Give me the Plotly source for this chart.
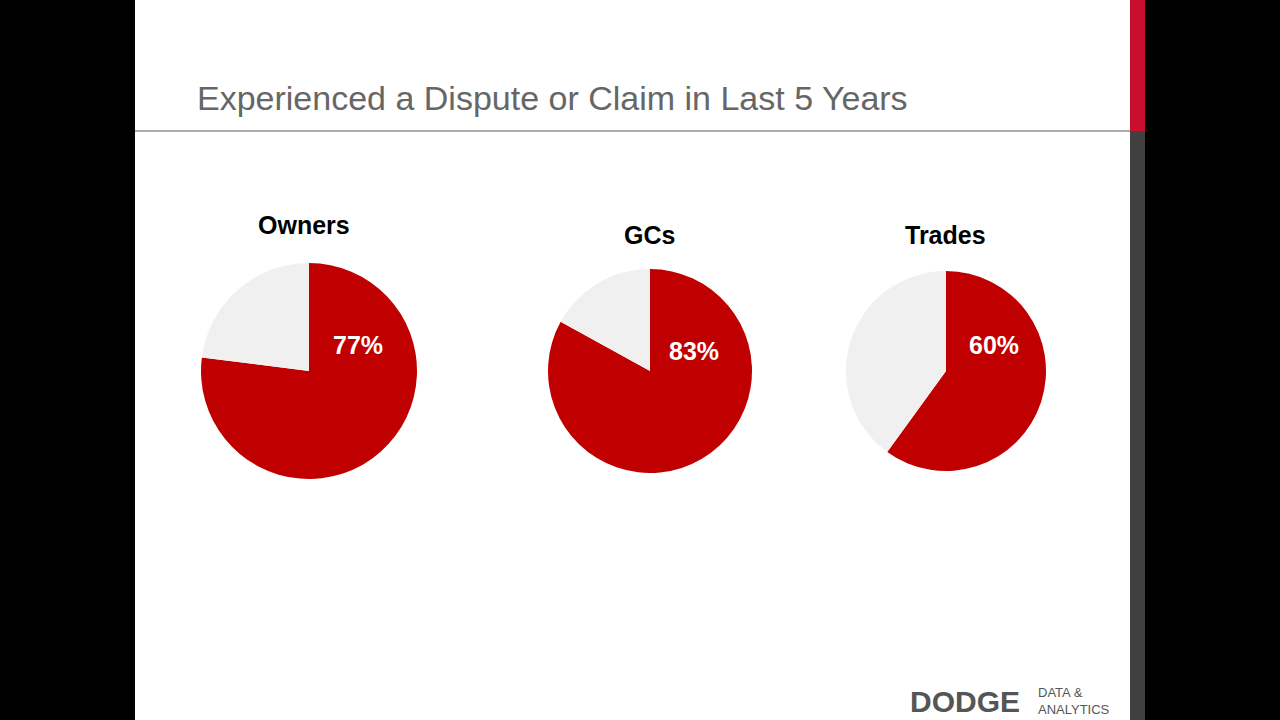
import plotly.graph_objects as go

groups = ["Owners", "GCs", "Trades"]
yes_pct = [77, 83, 60]
label_text = ["77%", "83%", "60%"]
centers = [(309, 371, 108), (650, 371, 102), (946, 371, 100)]
title_pos = [(304, 225), (649, 235), (945, 235)]
lab_pos = [(358, 345), (694, 351), (994, 345)]

W, H = 1280, 720
fig = go.Figure()
for g, v, (cx, cy, r) in zip(groups, yes_pct, centers):
    fig.add_trace(go.Pie(values=[v, 100 - v], labels=["Yes", "No"], sort=False,
                         direction="clockwise", rotation=0,
                         marker=dict(colors=["#C00000", "#F0F0F0"]),
                         textinfo="none", hoverinfo="label+percent", showlegend=False,
                         domain=dict(x=[(cx - r) / W, (cx + r) / W],
                                     y=[1 - (cy + r) / H, 1 - (cy - r) / H])))

def px(x): return x / W
def py(y): return 1 - y / H

shapes = [
    dict(type="rect", xref="paper", yref="paper", x0=px(135), x1=px(1130), y0=0, y1=1, fillcolor="white", line_width=0, layer="below"),
    dict(type="rect", xref="paper", yref="paper", x0=px(1130), x1=px(1145), y0=py(131), y1=1, fillcolor="#C8102E", line_width=0, layer="below"),
    dict(type="rect", xref="paper", yref="paper", x0=px(1130), x1=px(1145), y0=0, y1=py(131), fillcolor="#404040", line_width=0, layer="below"),
    dict(type="line", xref="paper", yref="paper", x0=px(135), x1=px(1130), y0=py(131), y1=py(131), line=dict(color="#909090", width=1.5)),
]
ann = [dict(text="Experienced a Dispute or Claim in Last 5 Years", x=px(195), y=py(98), xref="paper", yref="paper",
            xanchor="left", yanchor="middle", showarrow=False, font=dict(size=34, color="#666666", family="Liberation Sans"))]
for g, (x, y) in zip(groups, title_pos):
    ann.append(dict(text="<b>%s</b>" % g, x=px(x), y=py(y), xref="paper", yref="paper", showarrow=False,
                    xanchor="center", yanchor="middle",
                    font=dict(size=25, color="black", family="Liberation Sans")))
for t, (x, y) in zip(label_text, lab_pos):
    ann.append(dict(text="<b>%s</b>" % t, x=px(x), y=py(y), xref="paper", yref="paper", showarrow=False,
                    xanchor="center", yanchor="middle",
                    font=dict(size=25, color="white", family="Liberation Sans")))
ann.append(dict(text="<b>DODGE</b>", x=px(908), y=py(701), xref="paper", yref="paper", xanchor="left", yanchor="middle",
                showarrow=False, font=dict(size=30, color="#555555", family="Liberation Sans")))
ann.append(dict(text="DATA &amp;<br>ANALYTICS", x=px(1036), y=py(701), xref="paper", yref="paper", xanchor="left", yanchor="middle",
                align="left", showarrow=False, font=dict(size=13, color="#555555", family="Liberation Sans")))

fig.update_layout(width=W, height=H, margin=dict(l=0, r=0, t=0, b=0), paper_bgcolor="black",
                  shapes=shapes, annotations=ann)
fig.write_html("out.html", config={"displayModeBar": False},
               post_script="document.body.style.margin='0';document.body.style.background='black';document.body.style.overflow='hidden';")
